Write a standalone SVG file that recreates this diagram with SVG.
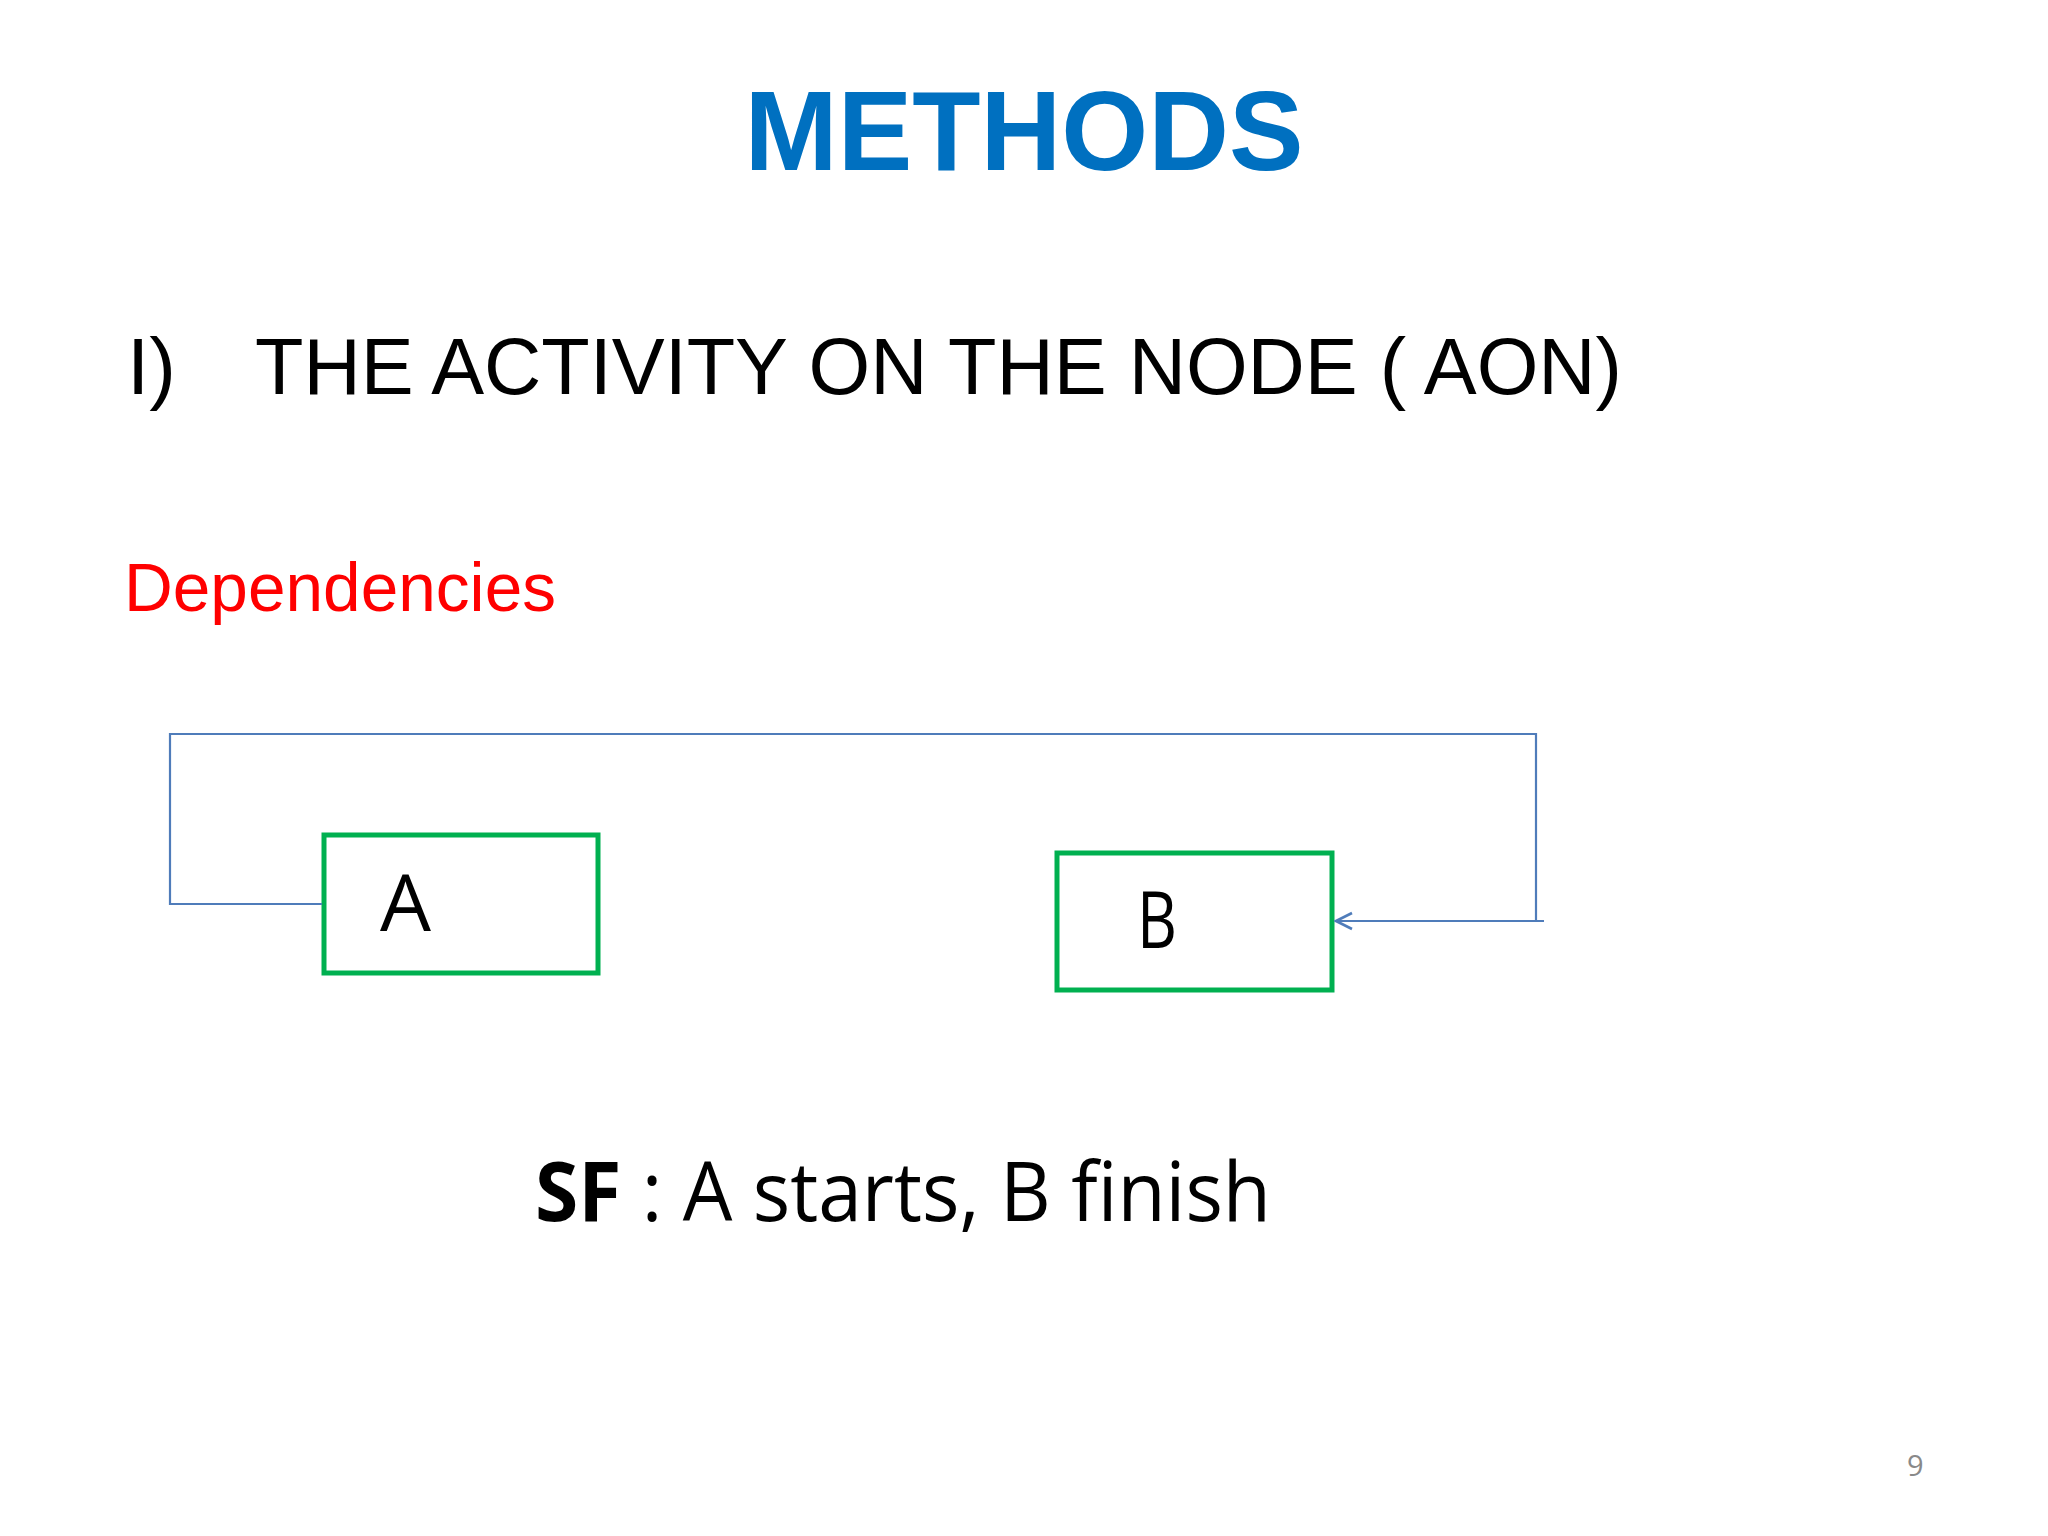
<svg xmlns="http://www.w3.org/2000/svg" width="2048" height="1536" viewBox="0 0 2048 1536">
<style>
.title{font-family:"Liberation Sans",Arial,sans-serif;font-weight:bold;font-size:113px;fill:#0070C0}
.head{font-family:"Liberation Sans",Arial,sans-serif;font-size:80px;fill:#000}
.dep{font-family:"Liberation Sans",Arial,sans-serif;font-size:68px;fill:#FF0000}
.box{fill:#FFFFFF;stroke:#00B050;stroke-width:5}
.lbl{font-family:"Open Sans","Noto Sans",sans-serif;font-size:78px;fill:#000}
.conn{fill:none;stroke:#4F7CBA;stroke-width:2.2}
.cap{font-family:"Open Sans","Noto Sans",sans-serif;font-size:82px;fill:#000}
.num{font-family:"Open Sans","Noto Sans",sans-serif;font-size:29px;fill:#898989}
</style>
<defs>
<marker id="open" viewBox="0 0 22 22" refX="20" refY="11" markerWidth="22" markerHeight="22" markerUnits="userSpaceOnUse" orient="auto">
<path d="M4 3 L20 11 L4 19" fill="none" stroke="#4F7CBA" stroke-width="2.6"/>
</marker>
</defs>
<rect width="2048" height="1536" fill="#FFFFFF"/>
<text class="title" x="1024" y="170" text-anchor="middle" textLength="559" lengthAdjust="spacingAndGlyphs">METHODS</text>
<text class="head" x="127" y="394">I)</text>
<text class="head" x="255" y="394" textLength="1367" lengthAdjust="spacingAndGlyphs">THE ACTIVITY ON THE NODE ( AON)</text>
<text class="dep" x="124" y="611" textLength="432" lengthAdjust="spacingAndGlyphs">Dependencies</text>
<g id="nodeA">
<rect class="box" x="324" y="835" width="274" height="138"/>
<text class="lbl" x="380" y="931" textLength="51" lengthAdjust="spacingAndGlyphs">A</text>
</g>
<g id="nodeB">
<rect class="box" x="1057" y="853" width="275" height="137"/>
<text class="lbl" x="1137" y="948" textLength="40" lengthAdjust="spacingAndGlyphs">B</text>
</g>
<g id="connectors">
<path class="conn" d="M322 904 H170 V734 H1536 V921"/>
<path class="conn" d="M1544 921 H1336" marker-end="url(#open)"/>
</g>
<text class="cap" x="535" y="1221" textLength="736" lengthAdjust="spacingAndGlyphs"><tspan font-weight="bold">SF</tspan> : A starts, B finish</text>
<text class="num" x="1907" y="1476">9</text>
</svg>
